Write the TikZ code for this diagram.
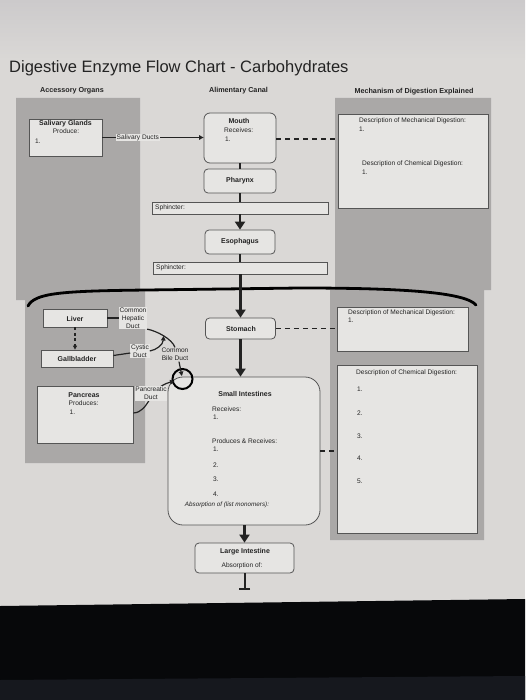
\documentclass[tikz,border=0pt]{standalone}
\usepackage{fontspec}
\setmainfont{Liberation Sans}
\usetikzlibrary{arrows.meta}
\definecolor{bgc}{RGB}{218,216,214}
\definecolor{topc}{RGB}{204,202,203}
\definecolor{colgray}{RGB}{170,168,167}
\definecolor{boxfill}{RGB}{230,229,227}
\definecolor{boxline}{RGB}{85,85,85}
\definecolor{ink}{RGB}{35,35,35}
\definecolor{bandc}{RGB}{7,8,10}
\definecolor{bandlow}{RGB}{22,24,30}
\begin{document}
\begin{tikzpicture}[x=1pt,y=-1pt,
  txt/.style={font=\fontsize{6.6}{8}\selectfont, inner sep=0pt, text=ink},
  itxt/.style={font=\fontsize{6.3}{8}\selectfont\itshape, inner sep=0pt, text=ink},
  btxt/.style={font=\fontsize{7}{8}\selectfont\bfseries, inner sep=0pt, text=ink},
  hdr/.style={font=\fontsize{7.2}{8}\selectfont\bfseries, inner sep=0pt, text=ink},
  lbl/.style={font=\fontsize{6.6}{8}\selectfont, inner sep=0.6pt, text=ink, fill=boxfill, align=center},
  box/.style={draw=boxline, fill=boxfill, line width=0.8pt, inner sep=0pt, rectangle},
  rbox/.style={box, rounded corners=4pt},
  thk/.style={line width=2.6pt, draw=ink},
  tarr/.style={-{Triangle[width=10pt,length=8pt]}},
  sarr/.style={-{Triangle[width=4.5pt,length=4.5pt]}},
  thn/.style={line width=1.2pt, draw=ink},
  dsh/.style={line width=1.3pt, draw=ink, dash pattern=on 5pt off 4pt}
]
\useasboundingbox (0,0) rectangle (525,700);
% background
\fill[bgc] (0,0) rectangle (525,700);
\shade[top color=topc, bottom color=bgc] (0,0) rectangle (525,60);
% gray columns
\fill[colgray] (16,98) -- (140,98) -- (140,290) -- (145,290) -- (145,463) -- (25,463) -- (25,300) -- (16,300) -- cycle;
\fill[colgray] (335,98) -- (491,98) -- (491,290) -- (484,290) -- (484,540) -- (330,540) -- (330,290) -- (335,290) -- cycle;
% black band
\fill[bandc] (0,606) -- (525,599) -- (525,700) -- (0,700) -- cycle;
\fill[bandlow] (0,680) -- (525,676) -- (525,700) -- (0,700) -- cycle;

% title and headers
\node[anchor=base west, font=\fontsize{16.5}{18}\selectfont, inner sep=0pt, text=ink] (title) at (9,73) {Digestive Enzyme Flow Chart - Carbohydrates};
\node[hdr] (h1) at (72,91) {Accessory Organs};
\node[hdr] (h2) at (238.5,91) {Alimentary Canal};
\node[hdr] (h3) at (414,92) {Mechanism of Digestion Explained};

% big curve
\draw[line width=2.8pt, black, line cap=round] (28,306) .. controls (35,293) and (60,291) .. (147,290) -- (300,288) .. controls (400,288) and (465,292) .. (476,305);

% right boxes
\node[box, minimum width=150pt, minimum height=94pt] (trbox) at (413,161) {};
\node[txt, anchor=west] (trm) at (359,121) {Description of Mechanical Digestion:};
\node[txt, anchor=west] (trm1) at (359,129) {1.};
\node[txt, anchor=west] (trc) at (362,164) {Description of Chemical Digestion:};
\node[txt, anchor=west] (trc1) at (362,172) {1.};

\node[box, minimum width=131pt, minimum height=44pt] (mech) at (402.5,329) {};
\node[txt, anchor=west] (mecht) at (348,313) {Description of Mechanical Digestion:};
\node[txt, anchor=west] (mech1) at (348,320.5) {1.};

\node[box, minimum width=140pt, minimum height=168pt] (chem) at (407,449) {};
\node[txt, anchor=west] (chemt) at (356,373) {Description of Chemical Digestion:};
\node[txt, anchor=west] (chem1) at (357,389) {1.};
\node[txt, anchor=west] (chem2) at (357,413) {2.};
\node[txt, anchor=west] (chem3) at (357,436) {3.};
\node[txt, anchor=west] (chem4) at (357,458) {4.};
\node[txt, anchor=west] (chem5) at (357,481) {5.};

% alimentary canal
\node[rbox, rounded corners=6pt, minimum width=72pt, minimum height=50pt] (mouth) at (240,138) {};
\node[btxt] (moutht) at (239,121) {Mouth};
\node[txt, anchor=west] (mouthr) at (224,130) {Receives:};
\node[txt, anchor=west] (mouth1) at (225,139) {1.};

\node[rbox, minimum width=72pt, minimum height=24pt] (pharynx) at (240,181) {};
\node[btxt] (pharynxt) at (240,181) {Pharynx};

\node[box, minimum width=176pt, minimum height=12pt] (sph1) at (240,208) {};
\node[txt, anchor=west] (sph1t) at (155,208) {Sphincter:};

\node[rbox, minimum width=70pt, minimum height=24pt] (esoph) at (240,242) {};
\node[btxt] (esopht) at (240,242) {Esophagus};

\node[box, minimum width=174pt, minimum height=12pt] (sph2) at (240,268) {};
\node[txt, anchor=west] (sph2t) at (156,268) {Sphincter:};

\node[rbox, minimum width=70pt, minimum height=21pt] (stomach) at (240.5,328.5) {};
\node[btxt] (stomacht) at (241,329) {Stomach};

\node[rbox, rounded corners=15pt, minimum width=152pt, minimum height=148pt] (si) at (244,451) {};
\node[btxt] (sit) at (245,394) {Small Intestines};
\node[txt, anchor=west] (sir) at (212,409) {Receives:};
\node[txt, anchor=west] (sir1) at (213,417.5) {1.};
\node[txt, anchor=west] (sip) at (212,441) {Produces \& Receives:};
\node[txt, anchor=west] (sip1) at (213,449.5) {1.};
\node[txt, anchor=west] (sip2) at (213,465) {2.};
\node[txt, anchor=west] (sip3) at (213,479) {3.};
\node[txt, anchor=west] (sip4) at (213,494) {4.};
\node[itxt] (sia) at (227,504.5) {Absorption of (list monomers):};

\node[rbox, minimum width=99pt, minimum height=30pt] (li) at (244.5,558) {};
\node[btxt] (lit) at (245,552) {Large Intestine};
\node[txt] (lia) at (242,566) {Absorption of:};
\coordinate (liend) at (244.5,590);

% accessory organs
\node[box, minimum width=73pt, minimum height=37pt] (sal) at (65.5,137.5) {};
\node[btxt] (salt) at (65.5,124) {Salivary Glands};
\node[txt] (salp) at (66,131.5) {Produce:};
\node[txt, anchor=west] (sal1) at (35,141) {1.};

\node[box, minimum width=64pt, minimum height=18pt] (liver) at (75,318) {};
\node[btxt] (livert) at (75,318.5) {Liver};
\node[box, minimum width=72pt, minimum height=17pt] (gall) at (77,358.5) {};
\node[btxt] (gallt) at (77,359) {Gallbladder};
\node[box, minimum width=96pt, minimum height=57pt] (panc) at (85,414.5) {};
\node[btxt] (panct) at (84,395) {Pancreas};
\node[txt, anchor=west] (pancp) at (68.5,403.5) {Produces:};
\node[txt, anchor=west] (panc1) at (69.5,412) {1.};

% duct circle
\node[circle, draw=black, line width=2pt, minimum size=20pt, inner sep=0pt] (circ) at (182.5,379) {};

% main connectors
\draw[thk] (mouth.south) -- (pharynx.north);
\draw[thk] (pharynx.south) -- (pharynx.south |- sph1.north);
\draw[thk, tarr] (esoph.north |- sph1.south) -- (esoph.north);
\draw[thk] (esoph.south) -- (esoph.south |- sph2.north);
\draw[thk, tarr] (stomach.north |- sph2.south) -- (stomach.north);
\draw[thk, tarr] (stomach.south) -- (stomach.south |- si.north);
\draw[thk, tarr] (li.north |- si.south) -- (li.north);
\draw[line width=2pt, draw=ink, -{Bar[width=11pt,line width=1.6pt]}] (li.south) -- (liend);

% dashed links
\draw[dsh] ([yshift=-1pt]mouth.east) -- ([yshift=-1pt]mouth.east -| trbox.west);
\draw[dsh] (stomach.east) -- (stomach.east -| mech.west);
\draw[dsh] (si.east) -- (si.east -| chem.west);

% salivary duct
\draw[thn, sarr] (sal.east) -- node[lbl, pos=0.35] (sald) {Salivary Ducts} (sal.east -| mouth.west);

% liver / gallbladder / ducts
\node[lbl] (hep) at (133,318) {Common\\Hepatic\\Duct};
\draw[thn] (liver.east) -- (hep.west);
\draw[thn, dashed, dash pattern=on 3pt off 2.5pt, -{Triangle[width=4pt,length=4pt]}] (liver.south) -- (liver.south |- gall.north);
\node[lbl] (cys) at (140,351) {Cystic\\Duct};
\draw[thn] ([yshift=3pt]gall.east) -- ([yshift=-2pt]cys.west);
\node[lbl, fill=none] (bile) at (175,354.5) {Common\\Bile Duct};
\draw[thn] (hep.south east) .. controls (157,331) and (172,339) .. (bile.north);
\coordinate (cysend) at (163.5,336);
\draw[thn, sarr] (cys.east) .. controls (156,350) and (163,345) .. (cysend);
\draw[thn, sarr, shorten >=3pt] ([xshift=4pt]bile.south) -- (circ.center);
\draw[thn, sarr] ([yshift=1.5pt]panc.east) .. controls (150,412) and (148,388) .. ([xshift=3pt,yshift=-2pt]circ.west);
\node[lbl] (pancd) at (151,393.5) {Pancreatic\\Duct};
\end{tikzpicture}
\end{document}
